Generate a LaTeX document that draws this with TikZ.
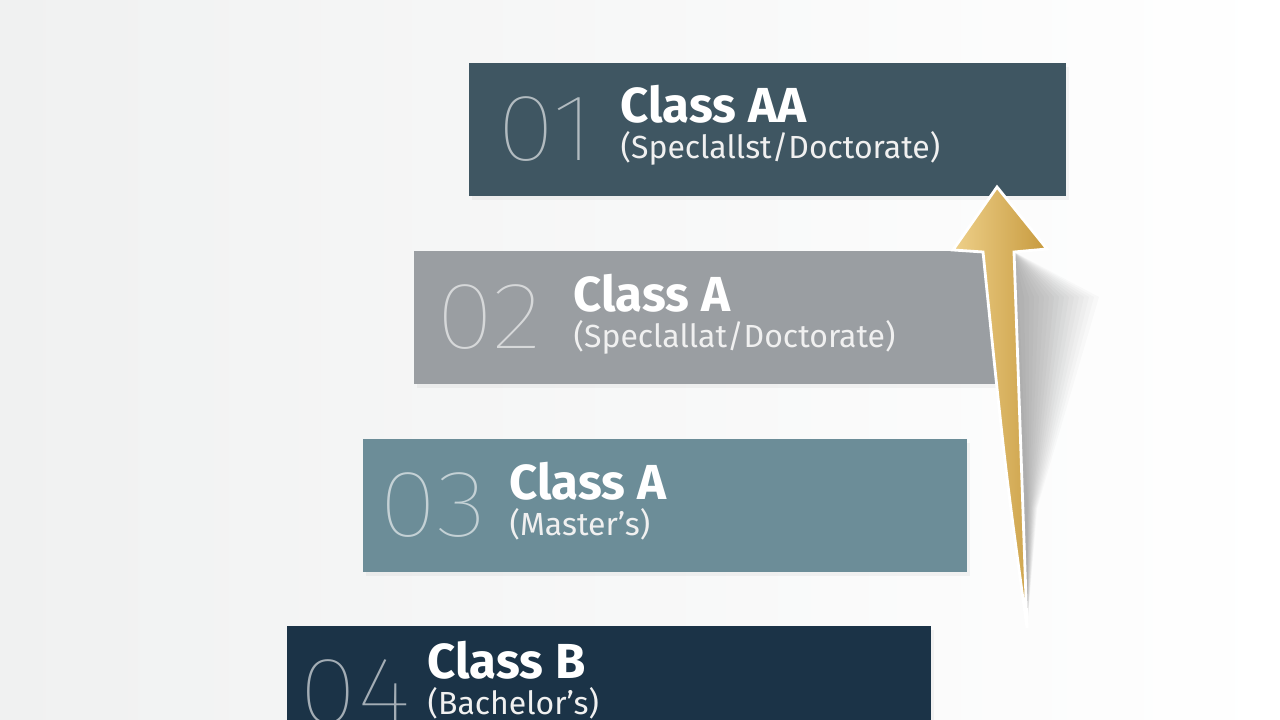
\documentclass[tikz,border=0pt]{standalone}
\usepackage{fontspec}
\setmainfont{Fira Sans}
\newfontfamily\numfont{Fira Sans Thin}
\usetikzlibrary{calc,positioning,shadings}
\definecolor{bgcol}{HTML}{F0F1F1}
\definecolor{boxAA}{HTML}{3F5662}
\definecolor{boxA}{HTML}{9A9EA2}
\definecolor{boxM}{HTML}{6C8D98}
\definecolor{boxB}{HTML}{1B3347}
\definecolor{goldlight}{HTML}{EED08A}
\definecolor{golddark}{HTML}{C79A3E}

\begin{document}
\begin{tikzpicture}[x=1cm, y=1cm]

\tikzset{classbox/.style={anchor=north west,minimum height=1.33cm,inner sep=0pt,outer sep=0pt},
numlabel/.style={anchor=west,font=\numfont\fontsize{27}{27}\selectfont,inner sep=0pt,xscale=1.12},
titlelabel/.style={anchor=base west,font=\bfseries\fontsize{14}{16}\selectfont,text=white,inner sep=0pt},
sublabel/.style={anchor=north west,font=\fontsize{9.1}{11}\selectfont,text=white!94!black,inner sep=0pt},
goldarrow/.style={draw=white,line width=0.8pt,left color=goldlight,right color=golddark}}

\clip (0,0) rectangle (12.8,7.2);

% Background
\shade[left color=bgcol,right color=white] (0,0) rectangle (12.8,7.2);

% Boxes
\foreach \n/\x/\y/\w/\col/\nx/\tx/\ty/\title/\sub in {1/4.69/6.57/5.97/boxAA/0.28/1.51/0.60/Class AA/{(Speclallst/Doctorate)}, 2/4.14/4.69/5.83/boxA/0.22/1.59/0.61/Class A/{(Speclallat/Doctorate)}, 3/3.63/2.81/6.04/boxM/0.16/1.46/0.61/Class A/{(Master's)}, 4/2.87/0.94/6.44/boxB/0.12/1.40/0.53/Class B/{(Bachelor's)}} {
  \fill[black,opacity=0.04] ($(\x,\y)+(0.03,-0.04)$) rectangle +(\w,-1.33);
  \node[classbox,fill=\col,minimum width=\w cm] (box\n) at (\x,\y) {};
  \node[numlabel,text=white,opacity=0.6] (num\n) at ($(box\n.west)+(\nx,0)$) {0\n};
  \node[titlelabel] (title\n) at ($(box\n.north west)+(\tx,-\ty)$) {\title};
  \node[sublabel] (sub\n) at ($(title\n.south west)+(0,-0.06)$) {\sub};
}

% Arrow
\coordinate (arrowtip) at ($(box1.south west)+(5.28,0.09)$);
\coordinate (arrowtail) at (10.27,0.92);
\foreach \s in {0.05,0.1,...,0.9} \fill[black,opacity=0.018] ($(arrowtip)+(0.17,-0.65)$) -- ++(\s,-0.45) -- ($(arrowtail)+(0.12*\s,1.2)$) -- (arrowtail) -- cycle; % shadow
\path[goldarrow] (arrowtip) -- ++(0.50,-0.62) -- ($(arrowtip)+(0.17,-0.65)$) -- (arrowtail) .. controls ($(arrowtail)+(-0.22,1.6)$) .. ($(arrowtip)+(-0.14,-0.65)$) -- ($(arrowtip)+(-0.44,-0.63)$) -- cycle;

\end{tikzpicture}
\end{document}
